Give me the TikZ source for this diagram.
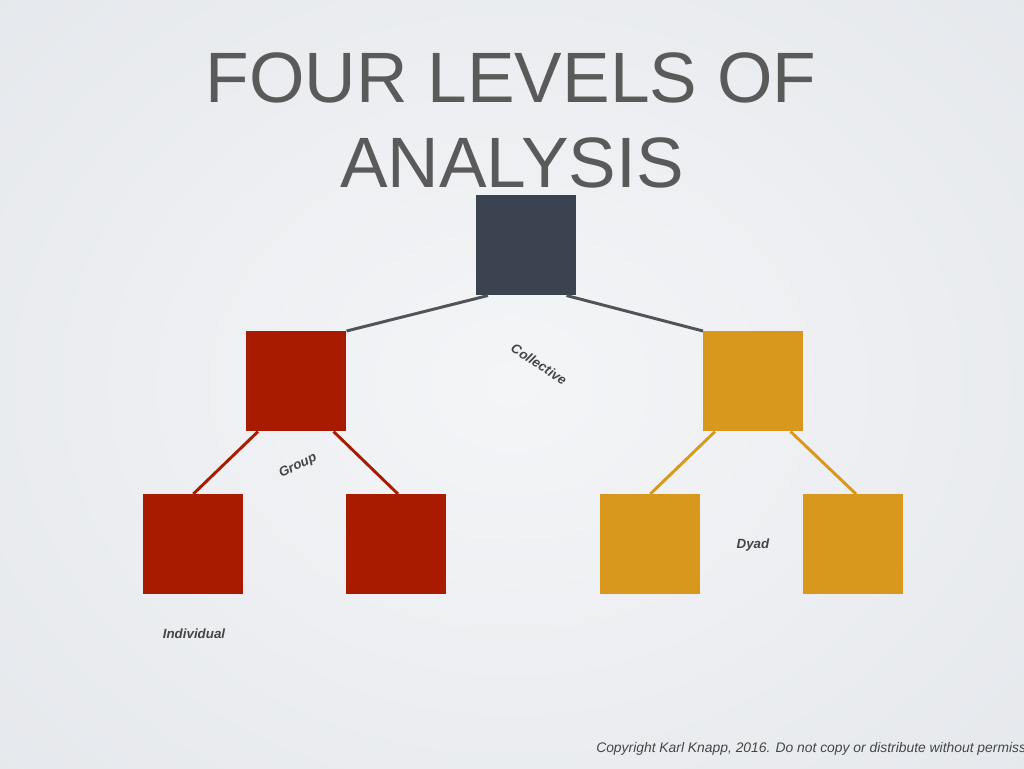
\documentclass[tikz,border=0pt]{standalone}
\usepackage{fontspec}
\setmainfont{Liberation Sans}
\usetikzlibrary{calc}
\begin{document}
\begin{tikzpicture}[x=0.75pt,y=-0.75pt,
  box/.style={minimum width=75pt,minimum height=75pt,inner sep=0pt,anchor=north west},
  topbox/.style={box,fill=topc},
  redbox/.style={box,fill=redc},
  orbox/.style={box,fill=orc},
  link/.style={line width=2.2pt},
  lbl/.style={text=txtc,font=\fontsize{10}{12}\selectfont\itshape\bfseries,inner sep=0pt}]
\definecolor{topc}{HTML}{3B4250}
\definecolor{redc}{HTML}{A91B00}
\definecolor{orc}{HTML}{D8981E}
\definecolor{txtc}{HTML}{454545}
\definecolor{titc}{HTML}{5A5A5A}
\definecolor{linec}{HTML}{505358}
\definecolor{bgin}{HTML}{F4F5F7}
\definecolor{bgout}{HTML}{E5E8EC}
\useasboundingbox (0,0) rectangle (1024,768);
\shade[inner color=bgin,outer color=bgout] (-200,-200) rectangle (1224,968);
\begin{scope}
\clip (0,0) rectangle (1024,768);
% title
\node[text=titc,font=\fontsize{53.5}{64}\selectfont,anchor=base,inner sep=0pt] (title1) at (511,102) {FOUR LEVELS OF};
\node[text=titc,font=\fontsize{53.5}{64}\selectfont,anchor=base,inner sep=0pt] (title2) at (512,187) {ANALYSIS};
% boxes
\node[topbox] (top) at (476,195) {};
\node[redbox] (grp) at (246,331) {};
\node[orbox] (dy) at (703,331) {};
\node[redbox] (i1) at (143,494) {};
\node[redbox] (i2) at (346,494) {};
\node[orbox] (d1) at (600,494) {};
\node[orbox] (d2) at (803,494) {};
% connectors
\draw[link,linec] ($(top.south west)+(12,0)$) -- (grp.north east);
\draw[link,linec] ($(top.south east)+(-10,0)$) -- (dy.north west);
\draw[link,redc] ($(grp.south west)+(12,0)$) -- ($(i1.north)$);
\draw[link,redc] ($(grp.south east)+(-13,0)$) -- ($(i2.north west)+(52,0)$);
\draw[link,orc] ($(dy.south west)+(12,0)$) -- ($(d1.north)$);
\draw[link,orc] ($(dy.south east)+(-13,0)$) -- ($(d2.north west)+(53,0)$);
% labels
\node[lbl,rotate=-33] (coll) at (539,364) {Collective};
\node[lbl,rotate=25] (group) at (298,466) {Group};
\node[lbl] (dyad) at (753,545) {Dyad};
\node[lbl] (ind) at (194,634) {Individual};
\node[text=txtc,font=\fontsize{10.4}{12}\selectfont\itshape,anchor=west,inner sep=0pt] (copy) at (596,749) {Copyright Karl Knapp, 2016. Do not copy or distribute without permission.};
\end{scope}
\end{tikzpicture}
\end{document}
